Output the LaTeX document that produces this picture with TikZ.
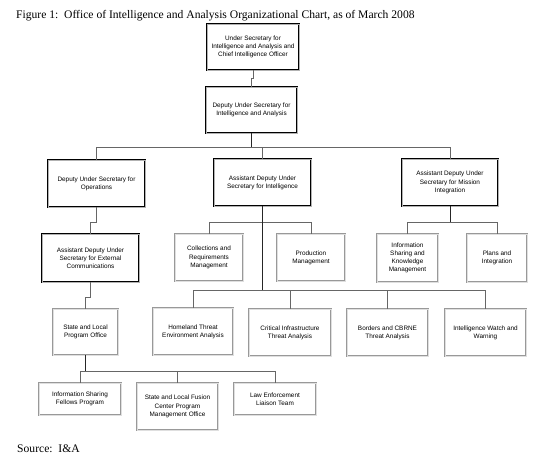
\documentclass[tikz,border=0pt]{standalone}
\usepackage{fontspec}
\setmainfont{Liberation Serif}
\newfontfamily\boxfont{Liberation Sans}
\usetikzlibrary{calc}
\begin{document}
\begin{tikzpicture}[x=1pt,y=1pt,
  bx/.style={inner sep=0pt, align=center, font=\boxfont\fontsize{6.4}{8.2}\selectfont},
  major/.style={bx, draw=black, line width=0.75pt, double=gray!60, double distance=0.9pt},
  minor/.style={bx, draw=gray!80, line width=0.6pt, double=gray!25, double distance=0.8pt},
  conn/.style={draw=gray!80!black, line width=0.6pt},
  trunk/.style={draw=black!85, line width=0.7pt},
  caption/.style={inner sep=0pt, anchor=base west, font=\fontsize{11.6}{13}\selectfont}]
\useasboundingbox (0,0) rectangle (551,-467);
\fill[white] (0,0) rectangle (551,-467);

\node[caption] (title) at (16,-18) {Figure 1:\ \ Office of Intelligence and Analysis Organizational Chart, as of March 2008};
\node[caption] (source) at (17,-452) {Source:\ \ I\&A};

% boxes
\node[major, minimum width=92, minimum height=46] (top) at (253,-47) {Under Secretary for\\Intelligence and Analysis and\\Chief Intelligence Officer};
\node[major, minimum width=91, minimum height=46] (dus) at (251.5,-110) {Deputy Under Secretary for\\Intelligence and Analysis};
\node[major, minimum width=97, minimum height=47] (ops) at (96.5,-183.5) {Deputy Under Secretary for\\Operations};
\node[major, minimum width=97, minimum height=47] (intel) at (262.5,-182.5) {Assistant Deputy Under\\Secretary for Intelligence};
\node[major, minimum width=96, minimum height=47] (mission) at (450,-182.5) {Assistant Deputy Under\\Secretary for Mission\\Integration};
\node[major, minimum width=97, minimum height=48] (ext) at (90.5,-258) {Assistant Deputy Under\\Secretary for External\\Communications};

\node[minor, minimum width=68, minimum height=47] (coll) at (209,-257.5) {Collections and\\Requirements\\Management};
\node[minor, minimum width=68, minimum height=47] (prod) at (311,-257.5) {Production\\Management};
\node[minor, minimum width=61, minimum height=48] (isk) at (407.5,-258) {Information\\Sharing and\\Knowledge\\Management};
\node[minor, minimum width=60, minimum height=48] (plans) at (497,-258) {Plans and\\Integration};

\node[minor, minimum width=65, minimum height=46] (slpo) at (85.5,-332) {State and Local\\Program Office};
\node[minor, minimum width=80, minimum height=47] (home) at (193,-331.5) {Homeland Threat\\Environment Analysis};
\node[minor, minimum width=82, minimum height=47] (crit) at (290,-332.5) {Critical Infrastructure\\Threat Analysis};
\node[minor, minimum width=81, minimum height=47] (bord) at (387.5,-332.5) {Borders and CBRNE\\Threat Analysis};
\node[minor, minimum width=81, minimum height=47] (watch) at (485.5,-332.5) {Intelligence Watch and\\Warning};

\node[minor, minimum width=82, minimum height=32] (isf) at (80,-399) {Information Sharing\\Fellows Program};
\node[minor, minimum width=81, minimum height=47] (fusion) at (177.5,-406.5) {State and Local Fusion\\Center Program\\Management Office};
\node[minor, minimum width=82, minimum height=32] (law) at (275,-399) {Law Enforcement\\Liaison Team};

% bus coordinates
\coordinate (busA) at (0,-147);
\coordinate (busB) at (0,-222);
\coordinate (busC) at (0,-290);
\coordinate (busD) at (0,-371);

% connectors
\draw[conn] (top.south) -- ++(0,-8) -| (dus.north);
\draw[trunk] (dus.south) -- (dus.south |- busA);
\draw[conn] (ops.north) |- (busA -| mission.north) -- (mission.north);
\draw[conn] (intel.north) -- (intel.north |- busA);

\draw[conn] (ops.south) -- ++(0,-15) -| (ext.north);
\draw[conn] (ext.south) -- ++(0,-15) -| (slpo.north);

\draw[trunk] (slpo.south) -- (slpo.south |- busD);
\draw[conn] (isf.north) |- (busD -| law.north) -- (law.north);
\draw[conn] (fusion.north) -- (fusion.north |- busD);

\draw[conn] (coll.north) |- (busB -| prod.north) -- (prod.north);
\draw[trunk] (intel.south) -- (intel.south |- busC);
\draw[conn] (home.north) |- (busC -| watch.north) -- (watch.north);
\draw[conn] (crit.north) -- (crit.north |- busC);
\draw[conn] (bord.north) -- (bord.north |- busC);

\draw[trunk] (mission.south) -- (mission.south |- busB);
\draw[conn] (isk.north) |- (busB -| plans.north) -- (plans.north);
\end{tikzpicture}
\end{document}
